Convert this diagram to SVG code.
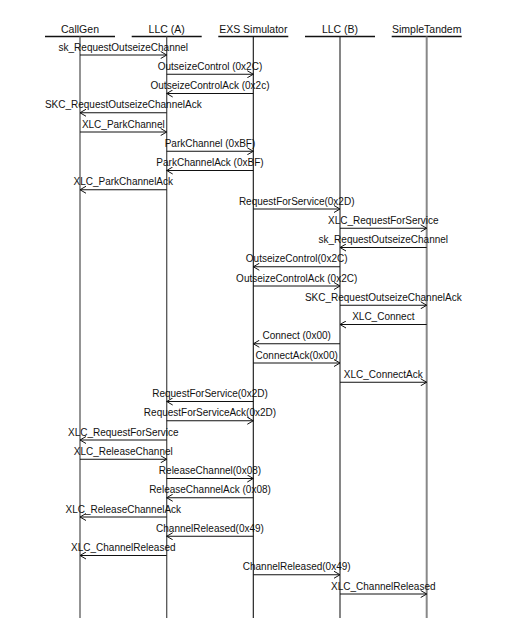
<svg xmlns="http://www.w3.org/2000/svg" width="508" height="632" viewBox="0 0 508 632">
<style>
text{font-family:"Liberation Sans",Arial,sans-serif;font-size:10px;fill:#111;text-anchor:middle}
.hd{font-size:10.5px}
.hl{stroke:#111;stroke-width:1.4}
.msg{stroke:#111;stroke-width:1;fill:none;marker-end:url(#ah)}
</style>
<defs>
<marker id="ah" viewBox="0 0 8 8" refX="7" refY="4" markerWidth="8" markerHeight="8" markerUnits="userSpaceOnUse" orient="auto">
<path d="M1,0.5 L7,4 L1,7.5" fill="none" stroke="#111" stroke-width="1"/>
</marker>
</defs>
<rect width="508" height="632" fill="#fff"/>
<g id="callgen"><text class="hd" x="80" y="33">CallGen</text><line class="hl" x1="45" y1="36.5" x2="115" y2="36.5"/><line x1="80" y1="36.5" x2="80" y2="618" stroke="#666" stroke-width="1.4"/></g>
<g id="llca"><text class="hd" x="166.7" y="33">LLC (A)</text><line class="hl" x1="131.7" y1="36.5" x2="201.7" y2="36.5"/><line x1="166.7" y1="36.5" x2="166.7" y2="618" stroke="#555" stroke-width="1.3"/></g>
<g id="exs"><text class="hd" x="253.3" y="33">EXS Simulator</text><line class="hl" x1="218.3" y1="36.5" x2="288.3" y2="36.5"/><line x1="253.3" y1="36.5" x2="253.3" y2="618" stroke="#111" stroke-width="1.1"/></g>
<g id="llcb"><text class="hd" x="340" y="33">LLC (B)</text><line class="hl" x1="305" y1="36.5" x2="375" y2="36.5"/><line x1="340" y1="36.5" x2="340" y2="618" stroke="#222" stroke-width="1.1"/></g>
<g id="simpletandem"><text class="hd" x="426.7" y="33">SimpleTandem</text><line class="hl" x1="391.7" y1="36.5" x2="461.7" y2="36.5"/><line x1="426.7" y1="36.5" x2="426.7" y2="618" stroke="#888" stroke-width="2"/></g>
<g id="connectors">
<line class="msg" x1="80" y1="55" x2="166.7" y2="55"/>
<line class="msg" x1="166.7" y1="74.25" x2="253.3" y2="74.25"/>
<line class="msg" x1="253.3" y1="93.5" x2="166.7" y2="93.5"/>
<line class="msg" x1="166.7" y1="112.75" x2="80" y2="112.75"/>
<line class="msg" x1="80" y1="132" x2="166.7" y2="132"/>
<line class="msg" x1="166.7" y1="151.25" x2="253.3" y2="151.25"/>
<line class="msg" x1="253.3" y1="170.5" x2="166.7" y2="170.5"/>
<line class="msg" x1="166.7" y1="189.75" x2="80" y2="189.75"/>
<line class="msg" x1="253.3" y1="209" x2="340" y2="209"/>
<line class="msg" x1="340" y1="228.25" x2="426.7" y2="228.25"/>
<line class="msg" x1="426.7" y1="247.5" x2="340" y2="247.5"/>
<line class="msg" x1="340" y1="266.75" x2="253.3" y2="266.75"/>
<line class="msg" x1="253.3" y1="286" x2="340" y2="286"/>
<line class="msg" x1="340" y1="305.25" x2="426.7" y2="305.25"/>
<line class="msg" x1="426.7" y1="324.5" x2="340" y2="324.5"/>
<line class="msg" x1="340" y1="343.75" x2="253.3" y2="343.75"/>
<line class="msg" x1="253.3" y1="363" x2="340" y2="363"/>
<line class="msg" x1="340" y1="382.25" x2="426.7" y2="382.25"/>
<line class="msg" x1="253.3" y1="401.5" x2="166.7" y2="401.5"/>
<line class="msg" x1="166.7" y1="420.75" x2="253.3" y2="420.75"/>
<line class="msg" x1="166.7" y1="440" x2="80" y2="440"/>
<line class="msg" x1="80" y1="459.25" x2="166.7" y2="459.25"/>
<line class="msg" x1="166.7" y1="478.5" x2="253.3" y2="478.5"/>
<line class="msg" x1="253.3" y1="497.75" x2="166.7" y2="497.75"/>
<line class="msg" x1="166.7" y1="517" x2="80" y2="517"/>
<line class="msg" x1="253.3" y1="536.25" x2="166.7" y2="536.25"/>
<line class="msg" x1="166.7" y1="555.5" x2="80" y2="555.5"/>
<line class="msg" x1="253.3" y1="574.75" x2="340" y2="574.75"/>
<line class="msg" x1="340" y1="594" x2="426.7" y2="594"/>
<text x="123.3" y="50.5">sk_RequestOutseizeChannel</text>
<text x="210" y="69.75">OutseizeControl (0x2C)</text>
<text x="210" y="89">OutseizeControlAck (0x2c)</text>
<text x="123.3" y="108.25">SKC_RequestOutseizeChannelAck</text>
<text x="123.3" y="127.5">XLC_ParkChannel</text>
<text x="210" y="146.75">ParkChannel (0xBF)</text>
<text x="210" y="166">ParkChannelAck (0xBF)</text>
<text x="123.3" y="185.25">XLC_ParkChannelAck</text>
<text x="296.7" y="204.5">RequestForService(0x2D)</text>
<text x="383.3" y="223.75">XLC_RequestForService</text>
<text x="383.3" y="243">sk_RequestOutseizeChannel</text>
<text x="296.7" y="262.25">OutseizeControl(0x2C)</text>
<text x="296.7" y="281.5">OutseizeControlAck (0x2C)</text>
<text x="383.3" y="300.75">SKC_RequestOutseizeChannelAck</text>
<text x="383.3" y="320">XLC_Connect</text>
<text x="296.7" y="339.25">Connect (0x00)</text>
<text x="296.7" y="358.5">ConnectAck(0x00)</text>
<text x="383.3" y="377.75">XLC_ConnectAck</text>
<text x="210" y="397">RequestForService(0x2D)</text>
<text x="210" y="416.25">RequestForServiceAck(0x2D)</text>
<text x="123.3" y="435.5">XLC_RequestForService</text>
<text x="123.3" y="454.75">XLC_ReleaseChannel</text>
<text x="210" y="474">ReleaseChannel(0x08)</text>
<text x="210" y="493.25">ReleaseChannelAck (0x08)</text>
<text x="123.3" y="512.5">XLC_ReleaseChannelAck</text>
<text x="210" y="531.75">ChannelReleased(0x49)</text>
<text x="123.3" y="551">XLC_ChannelReleased</text>
<text x="296.7" y="570.25">ChannelReleased(0x49)</text>
<text x="383.3" y="589.5">XLC_ChannelReleased</text>
</g>
</svg>
